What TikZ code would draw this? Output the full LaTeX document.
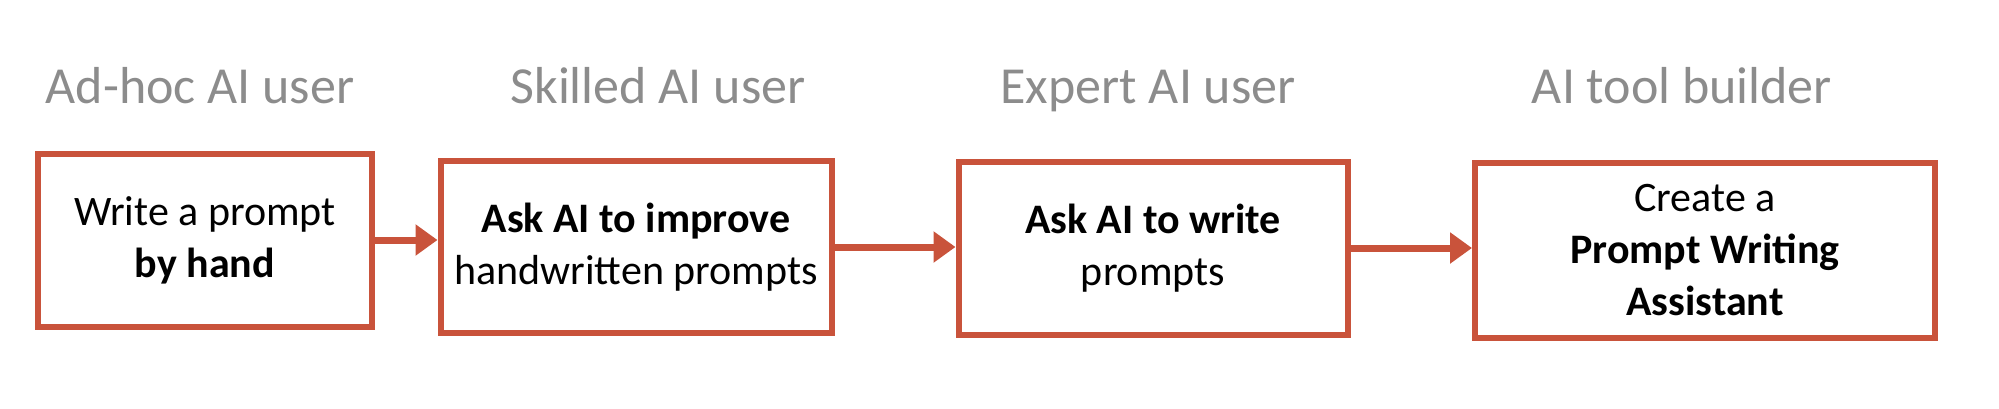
\documentclass[tikz,border=0pt]{standalone}
\usepackage{fontspec}
\setmainfont{Carlito}
\usetikzlibrary{arrows.meta}
\definecolor{boxred}{HTML}{C9533B}
\definecolor{titlegray}{HTML}{8C8C8C}
\begin{document}
\begin{tikzpicture}[x=1pt,y=-1pt,
  box/.style={draw=boxred,line width=6pt,fill=white,inner sep=0pt,align=center,font=\fontsize{42}{52}\selectfont},
  title/.style={text=titlegray,anchor=base,font=\fontsize{52}{60}\selectfont},
  arr/.style={draw=boxred,line width=7pt,-{Triangle[length=22pt,width=30pt]}}]
\useasboundingbox (0,0) rectangle (1999,408);
\node[box,minimum width=334pt,minimum height=173pt] (b1) at (205,240) {Write a prompt\\\textbf{by hand}};
\node[box,minimum width=391pt,minimum height=172pt] (b2) at (636,247) {\textbf{Ask AI to improve}\\handwritten prompts};
\node[box,minimum width=389pt,minimum height=173pt] (b3) at (1153,248) {\textbf{Ask AI to write}\\prompts};
\node[box,minimum width=460pt,minimum height=175pt] (b4) at (1705,250) {Create a\\\textbf{Prompt Writing}\\\textbf{Assistant}};
\node[title] (t1) at (200,103) {Ad-hoc AI user};
\node[title] (t2) at (658,103) {Skilled AI user};
\node[title] (t3) at (1148,103) {Expert AI user};
\node[title] (t4) at (1682,103) {AI tool builder};
\draw[arr] (b1.east) -- (b1.east -| b2.west);
\draw[arr] (b2.east) -- (b2.east -| b3.west);
\draw[arr] (b3.east) -- (b3.east -| b4.west);
\end{tikzpicture}
\end{document}
